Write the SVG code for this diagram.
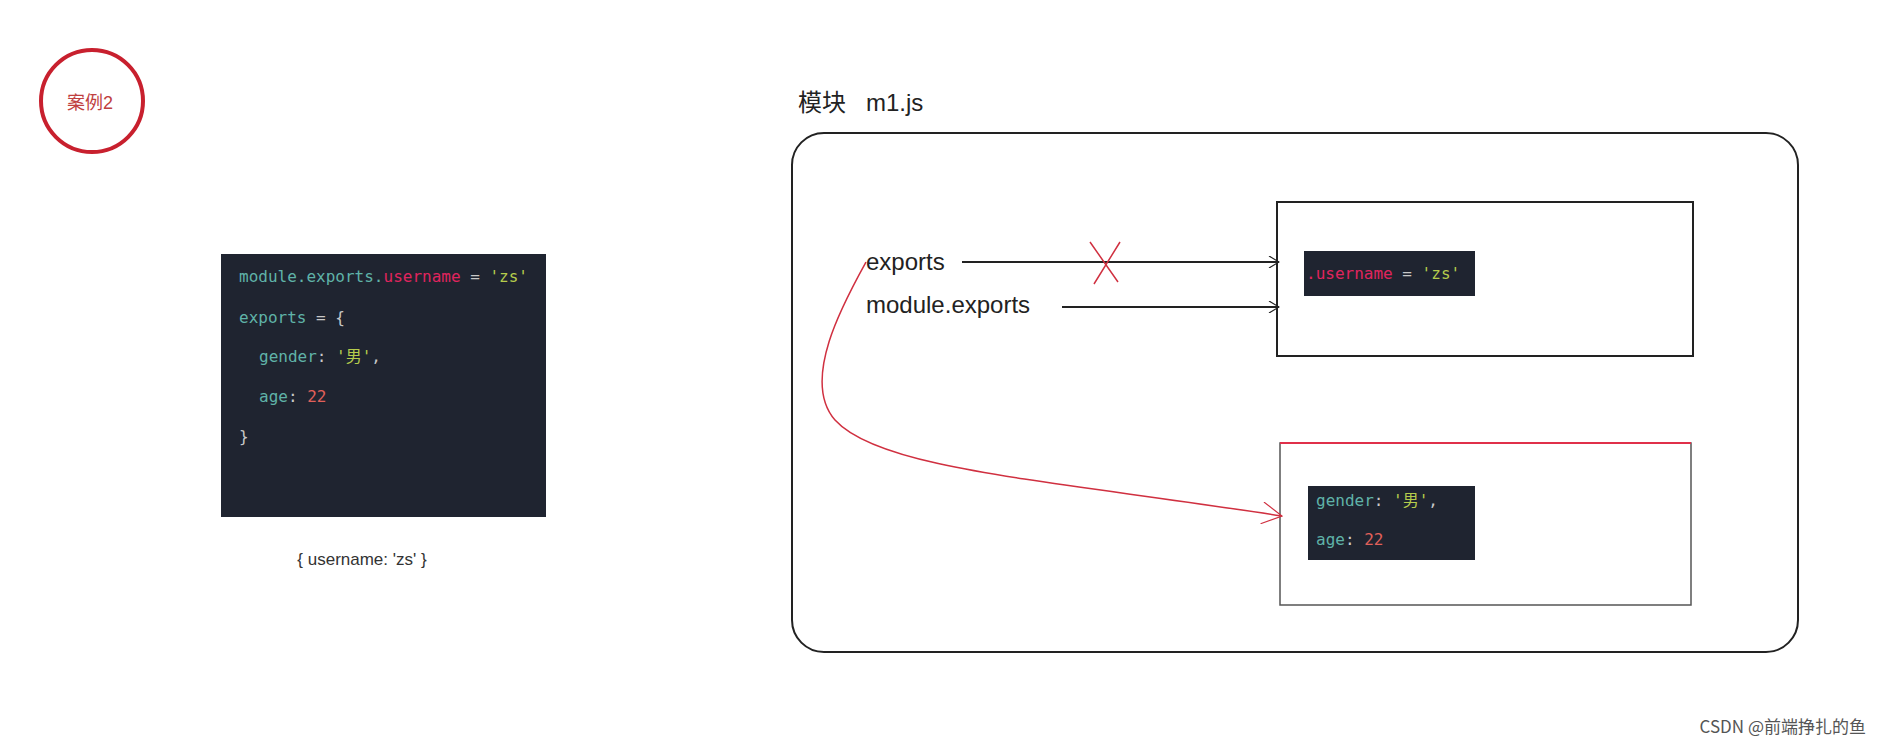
<svg xmlns="http://www.w3.org/2000/svg" width="1881" height="744" viewBox="0 0 1881 744">
<style>
.code{font-family:"DejaVu Sans Mono","Noto Sans CJK SC",monospace;font-size:16px}
.t{fill:#5fb3a8}.r{fill:#e0245e}.g{fill:#b5cc4c}.n{fill:#e0605a}.w{fill:#c8c8c8}
.lbl{font-family:"Liberation Sans","Noto Sans CJK SC",sans-serif;font-size:24px;fill:#222}
.box{fill:none;stroke:#222;stroke-width:2}
</style>
<defs>
<marker id="ah" viewBox="0 0 12 12" refX="11" refY="6" markerWidth="12" markerHeight="12" markerUnits="userSpaceOnUse" orient="auto"><path d="M1,0 L11,6 L1,12" fill="none" stroke="#222" stroke-width="1.2"/></marker>
<marker id="ahr" viewBox="0 0 22 22" refX="21" refY="11" markerWidth="22" markerHeight="22" markerUnits="userSpaceOnUse" orient="auto"><path d="M1,0 L21,11 L1,22" fill="none" stroke="#d03040" stroke-width="1.2"/></marker>
</defs>
<rect width="1881" height="744" fill="#fff"/>
<g id="badge">
<circle cx="92" cy="101" r="51" fill="none" stroke="#c8202e" stroke-width="4"/>
<text x="90" y="109" text-anchor="middle" font-family="Liberation Sans,'Noto Sans CJK SC',sans-serif" font-size="18" fill="#c04040">案例2</text>
</g>
<g id="code">
<rect x="221" y="254" width="325" height="263" fill="#1f2430"/>
<text class="code" x="239" y="282"><tspan class="t">module.exports.</tspan><tspan class="r">username</tspan><tspan class="w"> = </tspan><tspan class="g">'zs'</tspan></text>
<text class="code" x="239" y="323"><tspan class="t">exports</tspan><tspan class="w"> = {</tspan></text>
<text class="code" x="259" y="362"><tspan class="t">gender</tspan><tspan class="w">: </tspan><tspan class="g">'男'</tspan><tspan class="w">,</tspan></text>
<text class="code" x="259" y="402"><tspan class="t">age</tspan><tspan class="w">: </tspan><tspan class="n">22</tspan></text>
<text class="code w" x="239" y="442">}</text>
</g>
<text id="result" x="362" y="565" text-anchor="middle" font-family="Liberation Sans,sans-serif" font-size="17" fill="#333">{ username: 'zs' }</text>
<text id="title" class="lbl" x="798" y="111">模块<tspan x="866">m1.js</tspan></text>
<g id="module"><rect x="792" y="133" width="1006" height="519" rx="32" class="box"/></g>
<g id="obj1">
<rect x="1277" y="202" width="416" height="154" class="box"/>
<rect x="1304" y="251" width="171" height="45" fill="#1f2430"/>
<text class="code" x="1306" y="279"><tspan class="r">.username</tspan><tspan class="w"> = </tspan><tspan class="g">'zs'</tspan></text>
</g>
<g id="obj2">
<rect x="1280" y="443" width="411" height="162" fill="none" stroke="#555" stroke-width="1.5"/>
<line x1="1280" y1="443" x2="1691" y2="443" stroke="#e0304a" stroke-width="2"/>
<rect x="1308" y="486" width="167" height="74" fill="#1f2430"/>
<text class="code" x="1316" y="506"><tspan class="t">gender</tspan><tspan class="w">: </tspan><tspan class="g">'男'</tspan><tspan class="w">,</tspan></text>
<text class="code" x="1316" y="545"><tspan class="t">age</tspan><tspan class="w">: </tspan><tspan class="n">22</tspan></text>
</g>
<g id="labels">
<text class="lbl" x="866" y="270">exports</text>
<text class="lbl" x="866" y="313">module.exports</text>
</g>
<g id="connectors">
<line x1="962" y1="262" x2="1279" y2="262" stroke="#222" stroke-width="2" marker-end="url(#ah)"/>
<line x1="1062" y1="307" x2="1279" y2="307" stroke="#222" stroke-width="2" marker-end="url(#ah)"/>
<path d="M1090,242 L1118,282 M1120,242 L1094,284" stroke="#d03040" stroke-width="1.5" fill="none"/>
<path d="M866,262 C845,300 800,380 835,420 C880,470 1050,480 1282,516" fill="none" stroke="#d03040" stroke-width="1.5" marker-end="url(#ahr)"/>
</g>
<text id="wm" x="1866" y="733" text-anchor="end" font-family="'Noto Sans CJK SC',sans-serif" font-size="17" fill="#555">CSDN @前端挣扎的鱼</text>
</svg>
